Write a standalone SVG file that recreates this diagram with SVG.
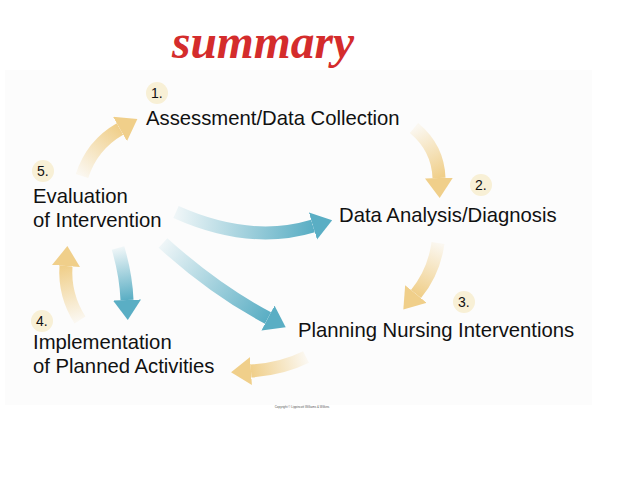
<svg xmlns="http://www.w3.org/2000/svg" width="638" height="478" viewBox="0 0 638 478">
<style>
.lbl{font-family:"Liberation Sans",Arial,sans-serif;font-size:20.3px;fill:#111}
.num{font-family:"Liberation Sans",Arial,sans-serif;font-size:14px;fill:#111}
.badge{fill:#f8f0d6}
.y{fill:none;stroke-width:13}
.b{fill:none;stroke-width:13}
</style>
<defs>
<marker id="hy" markerUnits="userSpaceOnUse" markerWidth="22" markerHeight="30" refX="0" refY="14" orient="auto"><path d="M0,0 L20,14 L0,28 Z" fill="#f0cf8a"/></marker>
<marker id="hb" markerUnits="userSpaceOnUse" markerWidth="22" markerHeight="30" refX="0" refY="14" orient="auto"><path d="M0,0 L20,14 L0,28 Z" fill="#5aaec4"/></marker>
<linearGradient id="g1" gradientUnits="userSpaceOnUse" x1="82" y1="176" x2="120" y2="129"><stop offset="0" stop-color="#f0cf8a" stop-opacity="0.1"/><stop offset="1" stop-color="#f0cf8a"/></linearGradient>
<linearGradient id="g2" gradientUnits="userSpaceOnUse" x1="414" y1="128" x2="439" y2="178"><stop offset="0" stop-color="#f0cf8a" stop-opacity="0.1"/><stop offset="1" stop-color="#f0cf8a"/></linearGradient>
<linearGradient id="g3" gradientUnits="userSpaceOnUse" x1="438" y1="243" x2="416" y2="294"><stop offset="0" stop-color="#f0cf8a" stop-opacity="0.1"/><stop offset="1" stop-color="#f0cf8a"/></linearGradient>
<linearGradient id="g4" gradientUnits="userSpaceOnUse" x1="306" y1="357" x2="251" y2="371"><stop offset="0" stop-color="#f0cf8a" stop-opacity="0.1"/><stop offset="1" stop-color="#f0cf8a"/></linearGradient>
<linearGradient id="g5" gradientUnits="userSpaceOnUse" x1="80" y1="320" x2="66" y2="266"><stop offset="0" stop-color="#f0cf8a" stop-opacity="0.1"/><stop offset="1" stop-color="#f0cf8a"/></linearGradient>
<linearGradient id="gA" gradientUnits="userSpaceOnUse" x1="176" y1="212" x2="313" y2="226"><stop offset="0" stop-color="#5aaec4" stop-opacity="0.08"/><stop offset="1" stop-color="#5aaec4"/></linearGradient>
<linearGradient id="gB" gradientUnits="userSpaceOnUse" x1="118" y1="248" x2="127" y2="300"><stop offset="0" stop-color="#5aaec4" stop-opacity="0.08"/><stop offset="1" stop-color="#5aaec4"/></linearGradient>
<linearGradient id="gC" gradientUnits="userSpaceOnUse" x1="163" y1="243" x2="268" y2="318"><stop offset="0" stop-color="#5aaec4" stop-opacity="0.08"/><stop offset="1" stop-color="#5aaec4"/></linearGradient>
</defs>
<rect width="638" height="478" fill="#fff"/>
<rect x="5" y="70" width="587" height="335" fill="#fcfcfc"/>
<text x="263" y="58" text-anchor="middle" font-family="'Liberation Serif','Times New Roman',serif" font-size="47.5" font-weight="bold" font-style="italic" fill="#d42c2c">summary</text>
<g id="connectors">
<path class="y" stroke="url(#g1)" d="M82,176 Q92,145 120,129" marker-end="url(#hy)"/>
<path class="y" stroke="url(#g2)" d="M414,128 Q438,148 439,178" marker-end="url(#hy)"/>
<path class="y" stroke="url(#g3)" d="M438,243 Q434,272 416,294" marker-end="url(#hy)"/>
<path class="y" stroke="url(#g4)" d="M306,357 Q282,369 251,371" marker-end="url(#hy)"/>
<path class="y" stroke="url(#g5)" d="M80,320 Q64,295 66,266" marker-end="url(#hy)"/>
<path class="b" stroke="url(#gA)" d="M176,212 Q250,245 313,226" marker-end="url(#hb)"/>
<path class="b" stroke="url(#gB)" d="M118,248 Q126,275 127,300" marker-end="url(#hb)"/>
<path class="b" stroke="url(#gC)" d="M163,243 Q215,290 268,318" marker-end="url(#hb)"/>
</g>
<g id="n1"><circle class="badge" cx="157" cy="93" r="11"/><text class="num" x="151" y="98">1.</text><text class="lbl" x="146" y="125">Assessment/Data Collection</text></g>
<g id="n2"><circle class="badge" cx="481" cy="185" r="11"/><text class="num" x="475" y="190">2.</text><text class="lbl" x="339" y="222">Data Analysis/Diagnosis</text></g>
<g id="n3"><circle class="badge" cx="464" cy="302" r="11"/><text class="num" x="458" y="307">3.</text><text class="lbl" x="298" y="337">Planning Nursing Interventions</text></g>
<g id="n4"><circle class="badge" cx="42" cy="321" r="11"/><text class="num" x="36" y="326">4.</text><text class="lbl" x="33" y="349">Implementation</text><text class="lbl" x="33" y="373">of Planned Activities</text></g>
<g id="n5"><circle class="badge" cx="43" cy="171" r="11"/><text class="num" x="37" y="176">5.</text><text class="lbl" x="33" y="203">Evaluation</text><text class="lbl" x="33" y="227">of Intervention</text></g>
<text x="302" y="408" text-anchor="middle" font-family="'Liberation Sans',Arial,sans-serif" font-size="3" fill="#555">Copyright © Lippincott Williams &amp; Wilkins</text>
</svg>
